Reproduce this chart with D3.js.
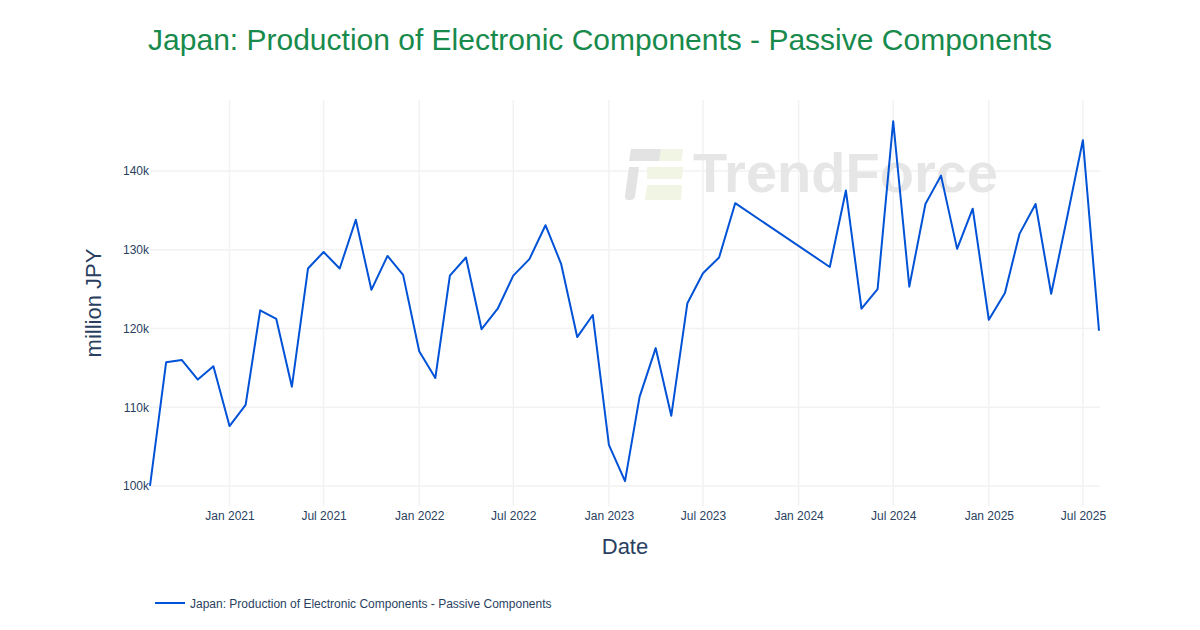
<!DOCTYPE html>
<html>
<head>
<meta charset="utf-8">
<script src="https://cdn.jsdelivr.net/npm/d3@7"></script>
<style>
  body { margin: 0; background: #fff; }
  svg text { font-family: "Liberation Sans", Arial, sans-serif; }
</style>
</head>
<body>
<div id="chart"></div>
<script>
// monthly data, gap between Sep 2023 and Mar 2024
var months = ["2020-08","2020-09","2020-10","2020-11","2020-12",
  "2021-01","2021-02","2021-03","2021-04","2021-05","2021-06","2021-07","2021-08","2021-09","2021-10","2021-11","2021-12",
  "2022-01","2022-02","2022-03","2022-04","2022-05","2022-06","2022-07","2022-08","2022-09","2022-10","2022-11","2022-12",
  "2023-01","2023-02","2023-03","2023-04","2023-05","2023-06","2023-07","2023-08","2023-09",
  "2024-03","2024-04","2024-05","2024-06","2024-07","2024-08","2024-09","2024-10","2024-11","2024-12",
  "2025-01","2025-02","2025-03","2025-04","2025-05","2025-06","2025-07","2025-08"];
var values = [100.0,115.7,116.0,113.5,115.2,
  107.6,110.3,122.3,121.2,112.6,127.6,129.7,127.6,133.8,124.9,129.2,126.8,
  117.1,113.7,126.7,129.0,119.9,122.5,126.7,128.8,133.1,128.2,118.9,121.7,
  105.2,100.6,111.3,117.5,108.9,123.2,127.0,129.0,135.9,
  127.8,137.5,122.5,125.0,146.3,125.3,135.8,139.4,130.1,135.2,
  121.1,124.5,132.0,135.8,124.4,134.2,143.9,119.7];
var yTicks = [100, 110, 120, 130, 140];
var xTicks = ["2021-01","2021-07","2022-01","2022-07","2023-01","2023-07","2024-01","2024-07","2025-01","2025-07"];
var seriesName = "Japan: Production of Electronic Components - Passive Components";

var width = 1200, height = 630;
var margin = {top:100, right:100, bottom:124, left:150};
var plotWidth = width - margin.left - margin.right;
var plotHeight = height - margin.top - margin.bottom;
var parse = d3.timeParse("%Y-%m");

var dados = months.map(function(m, i){ return {date: parse(m), value: values[i]*1000}; });

var xs = d3.scaleTime()
  .domain(d3.extent(dados, function(d){ return d.date; }))
  .range([0, plotWidth - 1]);
var ys = d3.scaleLinear()
  .domain([97450, 149000])
  .range([plotHeight, 0]);

var svg = d3.select("#chart").append("svg")
  .attr("width", width).attr("height", height);

svg.append("text")
  .attr("x", 600).attr("y", 50)
  .attr("text-anchor", "middle")
  .attr("fill", "#178a4c")
  .attr("font-size", 30)
  .text(seriesName);

var plotArea = svg.append("g")
  .attr("transform", "translate("+margin.left+","+margin.top+")");

// grid
plotArea.append("g").selectAll("line")
  .data(xTicks.map(parse)).enter().append("line")
  .attr("x1", function(d){ return xs(d); }).attr("x2", function(d){ return xs(d); })
  .attr("y1", 0).attr("y2", plotHeight)
  .attr("stroke", "#f2f2f2").attr("stroke-width", 1.5);
plotArea.append("g").selectAll("line")
  .data(yTicks).enter().append("line")
  .attr("x1", 0).attr("x2", plotWidth)
  .attr("y1", function(d){ return ys(d*1000); }).attr("y2", function(d){ return ys(d*1000); })
  .attr("stroke", "#f2f2f2").attr("stroke-width", 1.5);

// watermark
var wm = plotArea.append("g").attr("transform", "translate(475,45)");
wm.append("path").attr("d", "M6,4 L58,4 L56,16 L4,16 Z M4,22 L14,22 L10,52 Q9,55 5,55 L3,55 Q0,55 0,51 Z")
  .attr("fill", "#e3e3e3");
wm.append("path").attr("d", "M36,4 L58,4 L56,16 L34,16 Z M22,22 L58,22 L57,34 L22,34 Z M22,40 L57,40 L56,55 L20,55 Z")
  .attr("fill", "#f1f5e4");
wm.append("text").attr("x", 68).attr("y", 47)
  .attr("font-size", 56).attr("font-weight", "bold")
  .attr("fill", "#e6e6e6").text("TrendForce");

// axes labels
var xAxis = d3.axisBottom(xs)
  .tickValues(xTicks.map(parse))
  .tickFormat(d3.timeFormat("%b %Y"))
  .tickSize(0).tickPadding(5);
var gx = plotArea.append("g")
  .attr("transform", "translate(0,"+plotHeight+")")
  .call(xAxis);
var yAxis = d3.axisLeft(ys)
  .tickValues(yTicks.map(function(v){ return v*1000; }))
  .tickFormat(function(d){ return (d/1000) + "k"; })
  .tickSize(0).tickPadding(1);
var gy = plotArea.append("g").call(yAxis);
[gx, gy].forEach(function(g){
  g.select(".domain").remove();
  g.selectAll("text").attr("fill", "#2a3f5f").attr("font-size", 12)
    .attr("font-family", "Liberation Sans, Arial, sans-serif");
});

svg.append("text")
  .attr("x", margin.left + plotWidth/2).attr("y", 554)
  .attr("text-anchor", "middle").attr("fill", "#2a3f5f").attr("font-size", 22)
  .text("Date");
svg.append("text")
  .attr("transform", "translate(101,"+(margin.top+plotHeight/2)+") rotate(-90)")
  .attr("text-anchor", "middle").attr("fill", "#2a3f5f").attr("font-size", 22)
  .text("million JPY");

// line
var line = d3.line()
  .x(function(d){ return xs(d.date); })
  .y(function(d){ return ys(d.value); });
plotArea.append("path")
  .datum(dados)
  .attr("fill", "none")
  .attr("stroke", "#0052d6")
  .attr("stroke-width", 2)
  .attr("stroke-linejoin", "round")
  .attr("d", line);

// legend
var lg = svg.append("g").attr("transform", "translate(155,603)");
lg.append("line").attr("x1", 0).attr("x2", 30).attr("y1", 0).attr("y2", 0)
  .attr("stroke", "#0052d6").attr("stroke-width", 2);
lg.append("text").attr("x", 35).attr("y", 4.5)
  .attr("fill", "#2a3f5f").attr("font-size", 12).text(seriesName);
</script>
</body>
</html>
